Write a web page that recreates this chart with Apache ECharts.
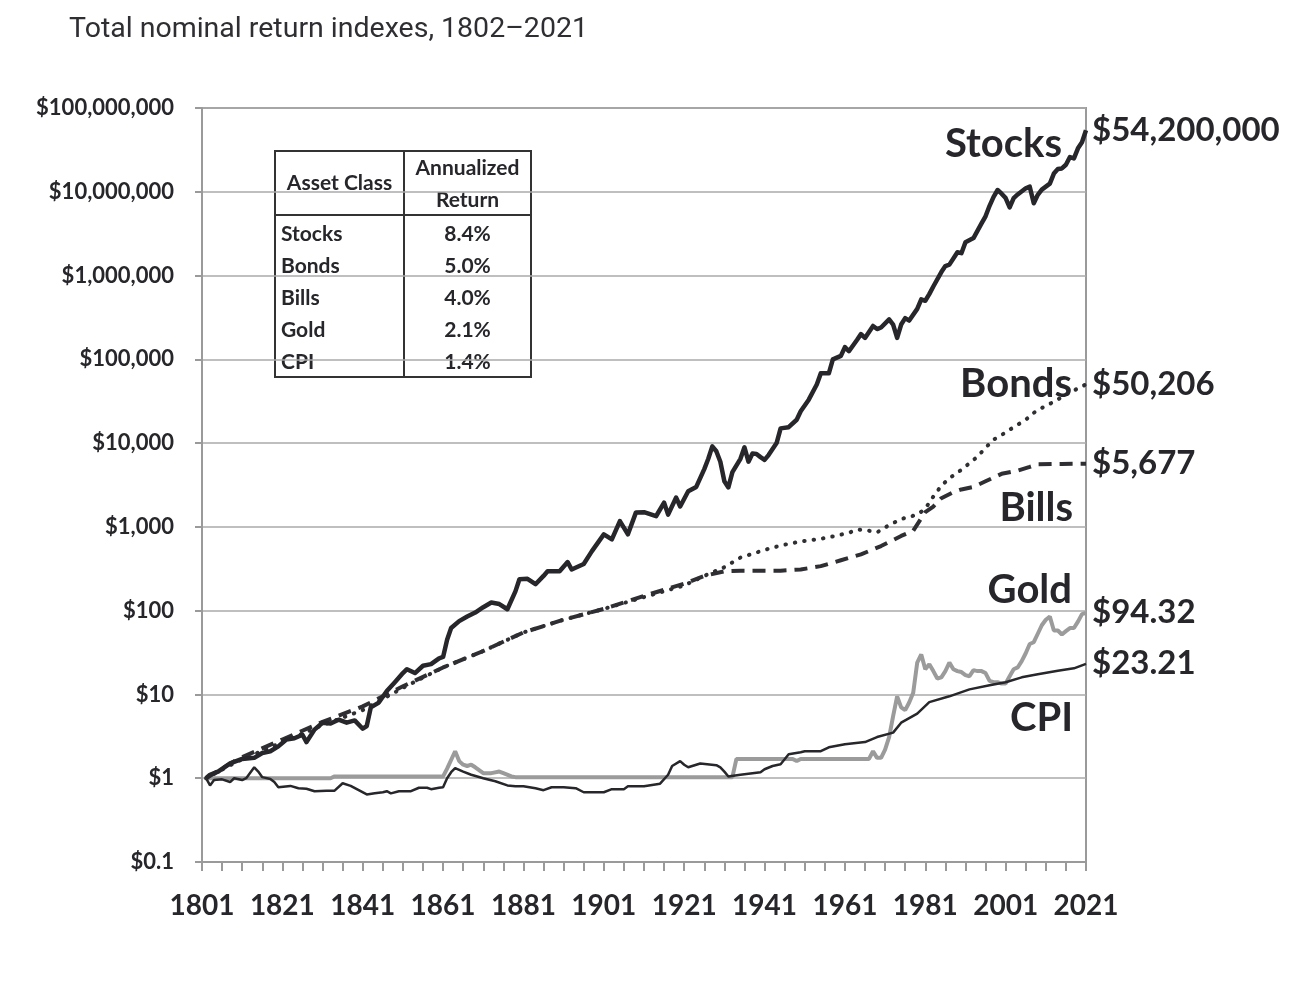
<!DOCTYPE html>
<html><head><meta charset="utf-8">
<script src="https://cdn.jsdelivr.net/npm/echarts@6.0.0/dist/echarts.min.js"></script>
<style>html,body{margin:0;padding:0;background:#fff}#c{width:1308px;height:988px}</style>
</head><body><div id="c"></div><script>
const titleText = 'Total nominal return indexes, 1802\u20132021';
const baseYear = 1801;

const stockYears = [1802,1803,1805,1808,1811,1814,1816,1818,1820,1822,1824,1826,1827,1829,1831,1833,1835,1837,1839,1841,1842,1843,1845,1847,1849,1851,1852,1854,1856,1858,1860,1861,1862,1863,1865,1867,1869,1871,1873,1875,1877,1879,1880,1882,1884,1886,1887,1890,1892,1893,1896,1898,1901,1903,1905,1907,1909,1911,1914,1916,1917,1919,1920,1922,1924,1926,1927,1928,1929,1930,1931,1932,1933,1935,1936,1937,1938,1939,1940,1941,1942,1944,1945,1947,1949,1950,1952,1954,1955,1957,1958,1960,1961,1962,1964,1965,1966,1968,1969,1970,1972,1973,1974,1975,1976,1977,1979,1980,1981,1982,1983,1985,1986,1987,1989,1990,1991,1993,1995,1996,1997,1998,1999,2000,2001,2002,2003,2004,2006,2007,2008,2009,2010,2012,2013,2014,2015,2016,2017,2018,2019,2020,2021];
const stockValues = [1.0,1.1,1.2,1.5,1.7,1.75,2.0,2.1,2.4,2.9,3.0,3.3,2.7,3.8,4.6,4.5,5.0,4.6,4.9,3.9,4.2,7.0,8,11,14,18,20,18,22,23,27,28,45,62,75,85,95,110,125,120,104,170,237,240,207,260,295,295,380,310,360,510,815,710,1170,815,1490,1500,1340,1950,1400,2240,1750,2660,3000,4900,6500,9150,8000,6000,3500,2960,4500,6500,8900,6000,7500,7400,6800,6300,7200,10000,15000,15500,19000,24000,33000,50000,68000,68000,100000,110000,140000,125000,170000,200000,180000,250000,230000,240000,300000,260000,180000,260000,310000,290000,400000,520000,500000,600000,740000,1100000,1300000,1350000,1900000,1850000,2500000,2800000,4200000,5100000,6800000,8700000,10500000,9500000,8400000,6500000,8400000,9300000,11000000,11500000,7300000,9200000,10600000,12500000,16500000,18700000,19000000,21000000,26000000,25000000,33000000,39000000,54200000];

const bondYears = [1802,1810,1821,1831,1841,1851,1861,1871,1881,1891,1901,1911,1921,1926,1931,1935,1941,1945,1950,1955,1958,1962,1964,1967,1969,1972,1975,1979,1981,1983,1985,1987,1990,1994,1996,1998,2000,2003,2006,2008,2011,2013,2016,2019,2021];
const bondValues = [1.0,1.6,2.7,4.3,6.5,12,21,33,55,78,105,145,200,260,330,430,530,600,670,720,770,850,930,900,860,1050,1240,1400,1650,2300,3100,3800,4800,6900,8800,11000,12500,15500,19000,23000,28000,31000,38000,45000,50206];

const billYears = [1802,1810,1821,1831,1841,1851,1861,1871,1881,1891,1901,1911,1921,1926,1931,1935,1940,1945,1950,1955,1960,1965,1970,1975,1978,1981,1983,1985,1988,1990,1993,1996,2000,2004,2007,2009,2015,2021];
const billValues = [1.0,1.7,2.9,4.7,7.2,12.5,21,33,55,78,105,150,210,260,295,300,300,300,310,340,400,470,590,780,900,1500,1750,2200,2600,2800,3000,3500,4300,4700,5200,5600,5650,5677];

const goldYears = [1802,1833,1834,1861,1862,1864,1865,1866,1867,1868,1869,1871,1873,1875,1876,1878,1879,1933,1934,1948,1949,1950,1967,1968,1969,1970,1971,1972,1973,1974,1975,1976,1977,1978,1979,1980,1981,1982,1983,1984,1985,1986,1987,1988,1989,1990,1991,1992,1993,1994,1995,1996,1997,1998,1999,2000,2001,2002,2003,2004,2005,2006,2007,2008,2009,2010,2011,2012,2013,2014,2015,2016,2017,2018,2019,2020,2021];
const goldValues = [1.0,1.0,1.05,1.05,1.3,2.1,1.6,1.45,1.4,1.45,1.35,1.15,1.15,1.2,1.15,1.05,1.03,1.03,1.7,1.7,1.6,1.7,1.7,2.1,1.75,1.75,2.2,3.1,5.5,9.5,7.0,6.5,8,10.5,24,30,20,23,19,15.5,16,19,24,20,19,18.5,17,16.5,19.5,19,19,18,14.5,14,14,13.5,13.5,16.5,20,21,25,31,40,42,53,67,78,85,58,58,52,57,62,62,74,91,94.32];

const cpiYears = [1802,1803,1804,1806,1808,1809,1811,1812,1814,1815,1816,1818,1819,1820,1823,1825,1827,1829,1832,1834,1836,1838,1840,1842,1844,1846,1847,1848,1850,1853,1855,1857,1858,1860,1861,1862,1863,1864,1866,1868,1871,1874,1877,1879,1881,1884,1886,1888,1891,1894,1896,1901,1903,1906,1907,1911,1915,1917,1918,1920,1921,1922,1924,1925,1929,1930,1931,1932,1935,1940,1941,1943,1945,1947,1950,1951,1955,1957,1961,1966,1969,1973,1975,1979,1982,1987,1992,1997,2001,2005,2009,2014,2018,2021];
const cpiValues = [1.0,0.82,0.95,0.97,0.9,1.0,0.95,1.0,1.35,1.2,1.03,0.98,0.9,0.78,0.81,0.76,0.75,0.70,0.71,0.71,0.87,0.81,0.72,0.64,0.66,0.68,0.70,0.66,0.70,0.70,0.77,0.77,0.74,0.77,0.78,1.0,1.18,1.32,1.2,1.1,1.0,0.92,0.82,0.80,0.80,0.76,0.72,0.78,0.78,0.76,0.68,0.68,0.74,0.74,0.8,0.8,0.86,1.1,1.4,1.6,1.45,1.35,1.45,1.5,1.43,1.35,1.2,1.05,1.1,1.18,1.28,1.4,1.47,1.93,2.04,2.1,2.1,2.34,2.54,2.7,3.1,3.5,4.6,5.9,8.1,9.5,11.5,12.9,14,16,17.4,19.2,20.5,23.21];

const seriesNames = ['Stocks','Bonds','Bills','Gold','CPI'];
const endLabels = ['$54,200,000','$50,206','$5,677','$94.32','$23.21'];
const tableHeader = ['Asset Class','Annualized','Return'];
const tableReturns = ['8.4%','5.0%','4.0%','2.1%','1.4%'];

const FONT = 'Lato';
const INK = '#26262b';

function pairs(ys, vs){ return ys.map((y,i)=>[y-baseYear, vs[i]]); }

function endLabel(txt){
  return {show:true, formatter: txt, distance: 6, fontSize: 33, fontWeight:'bold', fontFamily: FONT, color: INK};
}

const chart = echarts.init(document.getElementById('c'), null, {renderer:'canvas'});

const tx = 275, ty = 151, tw = 256, th = 226, colX = 404, headH = 64, rowH = 32;
const TF = 'bold 21px '+FONT;
const tableChildren = [
  {type:'rect', shape:{x:tx,y:ty,width:tw,height:th}, style:{fill:'#fff', stroke:'#333', lineWidth:2}},
  {type:'line', shape:{x1:colX,y1:ty,x2:colX,y2:ty+th}, style:{stroke:'#333', lineWidth:2}},
  {type:'line', shape:{x1:tx,y1:ty+headH,x2:tx+tw,y2:ty+headH}, style:{stroke:'#333', lineWidth:2}},
  {type:'text', style:{text:tableHeader[0], x:(tx+colX)/2, y:ty+headH/2, align:'center', verticalAlign:'middle', font:TF, fill:INK}},
  {type:'text', style:{text:tableHeader[1], x:(colX+tx+tw)/2, y:ty+17, align:'center', verticalAlign:'middle', font:TF, fill:INK}},
  {type:'text', style:{text:tableHeader[2], x:(colX+tx+tw)/2, y:ty+49, align:'center', verticalAlign:'middle', font:TF, fill:INK}}
];
seriesNames.forEach((n,i)=>{
  const yy = ty+headH+19+i*rowH;
  tableChildren.push({type:'text', style:{text:n, x:tx+6, y:yy, align:'left', verticalAlign:'middle', font:TF, fill:INK}});
  tableChildren.push({type:'text', style:{text:tableReturns[i], x:(colX+tx+tw)/2, y:yy, align:'center', verticalAlign:'middle', font:TF, fill:INK}});
});

const nameLabelPos = [[1062,144],[1072,384],[1073,508],[1072,590],[1073,718]];
const nameLabels = seriesNames.map((n,i)=>({type:'text', z:100, style:{text:n, x:nameLabelPos[i][0], y:nameLabelPos[i][1], align:'right', verticalAlign:'middle', font:'bold 40px '+FONT, fill:INK}}));

chart.setOption({
  animation:false,
  backgroundColor:'#fff',
  title:{text:titleText, left:64, top:10, textStyle:{fontSize:28.5, fontWeight:'normal', color:'#2e2e33', fontFamily:'Roboto'}},
  grid:{left:202, right:222, top:108, bottom:126, show:true, borderColor:'#9a9a9a', borderWidth:2},
  xAxis:{type:'value', min:0, max:220, interval:5,
    axisLine:{show:true, lineStyle:{color:'#9a9a9a', width:2}},
    axisTick:{show:true, length:9, lineStyle:{color:'#9a9a9a', width:2}},
    splitLine:{show:false},
    axisLabel:{margin:30, fontSize:28, fontWeight:'bold', fontFamily:FONT, color:INK,
      formatter:v=> (Math.round(v)%20===0 ? String(Math.round(v)+baseYear) : '')}
  },
  yAxis:{type:'log', logBase:10, min:0.1, max:100000000,
    axisLine:{show:true, lineStyle:{color:'#9a9a9a', width:2}},
    axisTick:{show:true, length:7, lineStyle:{color:'#9a9a9a', width:2}},
    minorTick:{show:false},
    splitLine:{show:true, lineStyle:{color:'#aaaaaa', width:1.5}},
    axisLabel:{margin:28, fontSize:22, fontWeight:'bold', fontFamily:FONT, color:INK,
      formatter:v=> v<1 ? '$'+Number(v).toFixed(1) : '$'+Math.round(v).toLocaleString('en-US')}
  },
  graphic:[{type:'group', z:50, children:tableChildren}].concat(nameLabels),
  series:[
    {name:'Gold', type:'line', data:pairs(goldYears,goldValues), showSymbol:false, z:2,
      lineStyle:{color:'#9b9b9b', width:4}, endLabel:endLabel(endLabels[3])},
    {name:'CPI', type:'line', data:pairs(cpiYears,cpiValues), showSymbol:false, z:3,
      lineStyle:{color:INK, width:2.5}, endLabel:endLabel(endLabels[4])},
    {name:'Bills', type:'line', data:pairs(billYears,billValues), showSymbol:false, z:4,
      lineStyle:{color:'#2e2e33', width:4, type:[13,8]}, endLabel:endLabel(endLabels[2])},
    {name:'Bonds', type:'line', data:pairs(bondYears,bondValues), showSymbol:false, z:5,
      lineStyle:{color:'#2e2e33', width:4, type:[0.5,9], cap:'round'}, endLabel:endLabel(endLabels[1])},
    {name:'Stocks', type:'line', data:pairs(stockYears,stockValues), showSymbol:false, z:6,
      lineStyle:{color:INK, width:4.5, join:'round'}, endLabel:endLabel(endLabels[0])}
  ]
});
</script></body></html>
